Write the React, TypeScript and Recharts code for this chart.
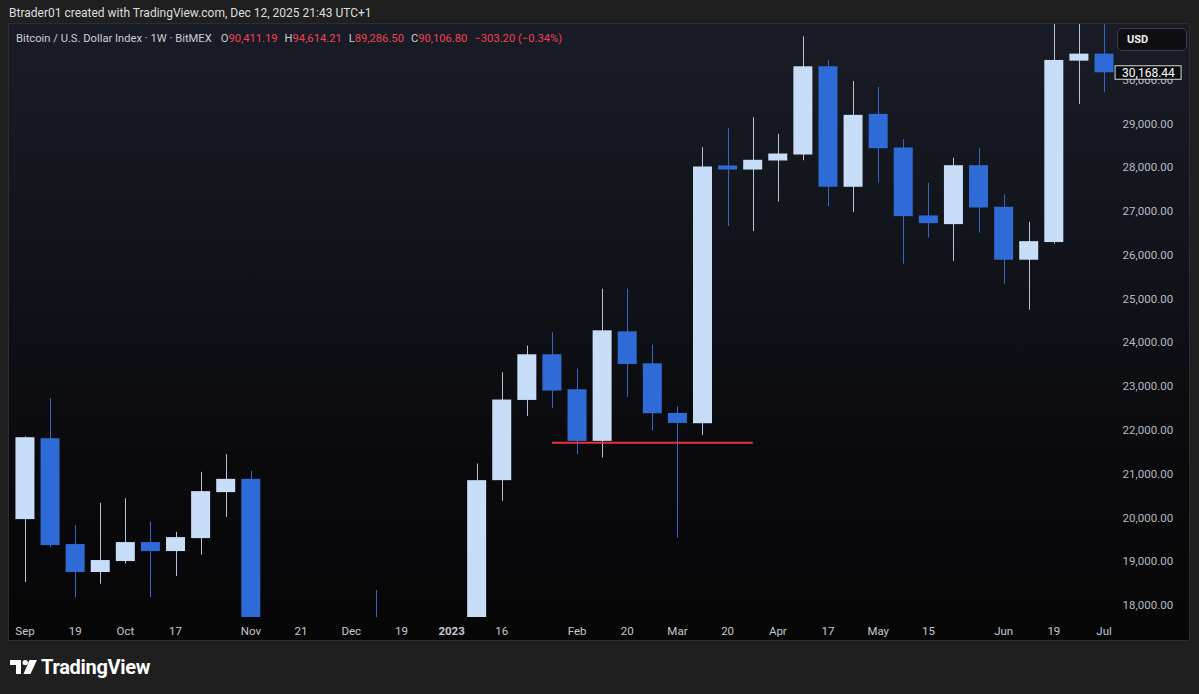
import { ComposedChart, Bar, XAxis, YAxis, ReferenceLine } from 'recharts';

// weekly candles, Sep 2022 -> Jul 2023
const dates = [
  '2022-09-05', '2022-09-12', '2022-09-19', '2022-09-26', '2022-10-03', '2022-10-10', '2022-10-17', '2022-10-24',
  '2022-10-31', '2022-11-07', '2022-11-14', '2022-11-21', '2022-11-28', '2022-12-05', '2022-12-12', '2022-12-19',
  '2022-12-26', '2023-01-02', '2023-01-09', '2023-01-16', '2023-01-23', '2023-01-30', '2023-02-06', '2023-02-13',
  '2023-02-20', '2023-02-27', '2023-03-06', '2023-03-13', '2023-03-20', '2023-03-27', '2023-04-03', '2023-04-10',
  '2023-04-17', '2023-04-24', '2023-05-01', '2023-05-08', '2023-05-15', '2023-05-22', '2023-05-29', '2023-06-05',
  '2023-06-12', '2023-06-19', '2023-06-26', '2023-07-03',
];
const opens = [
  19962, 21810, 19392, 18753, 19004, 19437, 19232, 19528, 20578, 20882, 16330, 16280, 16430, 17100, 17090, 16770,
  16830, 16540, 17130, 20852, 22684, 23727, 22928, 21749, 24251, 23521, 22387, 22152, 28039, 27947, 28153, 28290,
  30305, 27553, 29218, 28450, 26898, 26700, 28046, 27096, 25887, 26291, 30434, 30594,
];
const highs = [
  21850, 22723, 19825, 20334, 20437, 19910, 19673, 21041, 21445, 21064, 17190, 16750, 17330, 17420, 18342, 16950,
  16960, 17240, 21233, 23316, 23925, 24229, 23400, 25226, 25226, 23948, 22540, 28456, 28890, 29141, 28762, 30989,
  30450, 29970, 29833, 28640, 27644, 28214, 28434, 27377, 26754, 31430, 31380, 31400,
];
const lows = [
  18525, 19323, 18176, 18486, 18951, 18176, 18662, 19150, 20015, 15630, 15815, 15480, 16050, 16740, 16530, 16550,
  16330, 16510, 17120, 20380, 22319, 22502, 21438, 21370, 22752, 21986, 19545, 21879, 26654, 26540, 27218, 28160,
  27110, 26973, 27644, 25796, 26389, 25856, 26503, 25340, 24746, 26252, 29446, 29711,
];
const closes = [
  21833, 19369, 18753, 19027, 19437, 19232, 19551, 20601, 20882, 16330, 16280, 16430, 17100, 17090, 16770, 16830,
  16540, 17130, 20852, 22693, 23727, 22898, 21749, 24274, 23505, 22381, 22159, 28016, 27947, 28169, 28313, 30305,
  27553, 29196, 28434, 26882, 26722, 28046, 27080, 25887, 26311, 30450, 30594, 30168.44,
];
const timeLabels = [
  'Sep', '', '19', '', 'Oct', '', '17', '', '', 'Nov', '', '21', '', 'Dec', '', '19',
  '', '2023', '', '16', '', '', 'Feb', '', '20', '', 'Mar', '', '20', '', 'Apr', '',
  '17', '', 'May', '', '15', '', '', 'Jun', '', '19', '', 'Jul',
];
const priceTicks = [18000, 19000, 20000, 21000, 22000, 23000, 24000, 25000, 26000, 27000, 28000, 29000, 30000];
const supportLevel = 21707;
const supportFrom = 21;
const supportTo = 29;

const data = dates.map((d, i) => ({ date: d, open: opens[i], high: highs[i], low: lows[i], close: closes[i] }));

const UP = '#c8ddf7';
const DOWN = '#2f6bd6';
const UP_WICK = '#b3c2d6';
const DOWN_WICK = '#3565c2';
const FONT = 'Roboto, "Noto Sans", sans-serif';

const Candle = (props: any) => {
  const { x, y, width, height, payload } = props;
  if (x == null || payload == null) return null;
  const top = Math.min(y, y + height);
  const bottom = Math.max(y, y + height);
  const { open, close, high, low } = payload;
  const k = (bottom - top) / (high - low);
  const yOf = (v: number) => top + (high - v) * k;
  const up = close >= open;
  const bTop = yOf(Math.max(open, close));
  const bBot = yOf(Math.min(open, close));
  const cx = Math.round(x + width / 2) + 0.5;
  return (
    <g>
      <line x1={cx} x2={cx} y1={top} y2={bottom} stroke={up ? UP_WICK : DOWN_WICK} strokeWidth={1} />
      <rect x={x} y={bTop} width={width} height={Math.max(1.5, bBot - bTop)} fill={up ? UP : DOWN} />
    </g>
  );
};

const TimeTick = (props: any) => {
  const { x, y, payload } = props;
  const label = timeLabels[dates.indexOf(payload.value)];
  if (!label) return null;
  return (
    <text x={x} y={y + 16} textAnchor="middle" fill="#c5c8d0" fontSize={11.5} fontWeight={label === '2023' ? 700 : 400}>
      {label}
    </text>
  );
};

const PriceTag = (props: any) => {
  const vb = props.viewBox || {};
  const bx = vb.x + vb.width - 1.5;
  const cy = vb.y;
  return (
    <g>
      <rect x={bx} y={cy - 6.5} width={66} height={13.5} fill="#0b0c0f" stroke="#d7dae0" strokeWidth={1} />
      <text x={bx + 7} y={cy + 4.3} fill="#ffffff" fontSize={12}>
        {closes[closes.length - 1].toLocaleString('en-US', { minimumFractionDigits: 2 })}
      </text>
    </g>
  );
};

const fmt = (v: number) => v.toLocaleString('en-US', { minimumFractionDigits: 2, maximumFractionDigits: 2 });

export default function App() {
  return (
    <div style={{ position: 'absolute', left: 0, top: 0, width: 1199, height: 694, background: '#1f1f1f', overflow: 'hidden', fontFamily: FONT }}>
      <div style={{ position: 'absolute', left: 9, top: 6, fontSize: 12, color: '#dedede', whiteSpace: 'nowrap' }}>
        Btrader01 created with TradingView.com, Dec 12, 2025 21:43 UTC+1
      </div>

      <div
        style={{
          position: 'absolute', left: 8, top: 23, width: 1182, height: 618, boxSizing: 'border-box',
          border: '1px solid #2d2d2f',
          background: 'linear-gradient(180deg, #191c26 0%, #12141b 35%, #0a0a0d 70%, #060607 100%)',
        }}
      />

      <div style={{ position: 'absolute', left: 9, top: 24 }}>
        <ComposedChart width={1181} height={616} data={data} margin={{ top: 0, right: 0, bottom: 0, left: 3.45 }}>
          <XAxis dataKey="date" interval={0} tick={<TimeTick />} axisLine={false} tickLine={false} tickSize={0} height={23} />
          <YAxis
            orientation="right"
            domain={[17726, 31271]}
            ticks={priceTicks}
            allowDataOverflow
            axisLine={false}
            tickLine={false}
            tickSize={0}
            tickMargin={6}
            width={73.4}
            tick={{ fill: '#b7bac2', fontSize: 11.5 }}
            tickFormatter={fmt}
          />
          <Bar dataKey={(d: any) => [d.low, d.high]} barSize={19} shape={<Candle />} isAnimationActive={false} />
          <ReferenceLine
            segment={[{ x: dates[supportFrom], y: supportLevel }, { x: dates[supportTo], y: supportLevel }]}
            stroke="#e8333f"
            strokeWidth={2}
          />
          <ReferenceLine y={closes[closes.length - 1]} stroke="none" label={<PriceTag />} {...({ zIndex: 2500 } as any)} />
        </ComposedChart>
      </div>

      <div
        style={{
          position: 'absolute', left: 1117, top: 28, width: 70, height: 23, boxSizing: 'border-box',
          border: '1px solid #3a3c42', borderRadius: 5, background: '#0f0f11', color: '#f0f0f0',
          fontSize: 11, fontWeight: 700, lineHeight: '21px', paddingLeft: 9,
        }}
      >
        USD
      </div>

      <div style={{ position: 'absolute', left: 16, top: 32, fontSize: 11.2, whiteSpace: 'nowrap', color: '#c9ccd3' }}>
        <span>Bitcoin / U.S. Dollar Index · 1W · BitMEX</span>
        <span style={{ marginLeft: 9 }}>O</span><span style={{ color: '#f0424e' }}>90,411.19</span>
        <span style={{ marginLeft: 7 }}>H</span><span style={{ color: '#f0424e' }}>94,614.21</span>
        <span style={{ marginLeft: 7 }}>L</span><span style={{ color: '#f0424e' }}>89,286.50</span>
        <span style={{ marginLeft: 7 }}>C</span><span style={{ color: '#f0424e' }}>90,106.80</span>
        <span style={{ marginLeft: 7, color: '#f0424e' }}>−303.20 (−0.34%)</span>
      </div>

      <div style={{ position: 'absolute', left: 10, top: 655, display: 'flex', alignItems: 'center' }}>
        <svg width={28} height={16} viewBox="0 0 28 16">
          <path d="M0 1 H11 V15 H6 V6 H0 Z" fill="#ffffff" />
          <circle cx={15.2} cy={3.6} r={2.7} fill="#ffffff" />
          <path d="M19.5 1 H27 L20.5 15 H13.5 Z" fill="#ffffff" />
        </svg>
        <span style={{ marginLeft: 3, color: '#ffffff', fontSize: 20, fontWeight: 700, letterSpacing: -0.3 }}>TradingView</span>
      </div>
    </div>
  );
}
